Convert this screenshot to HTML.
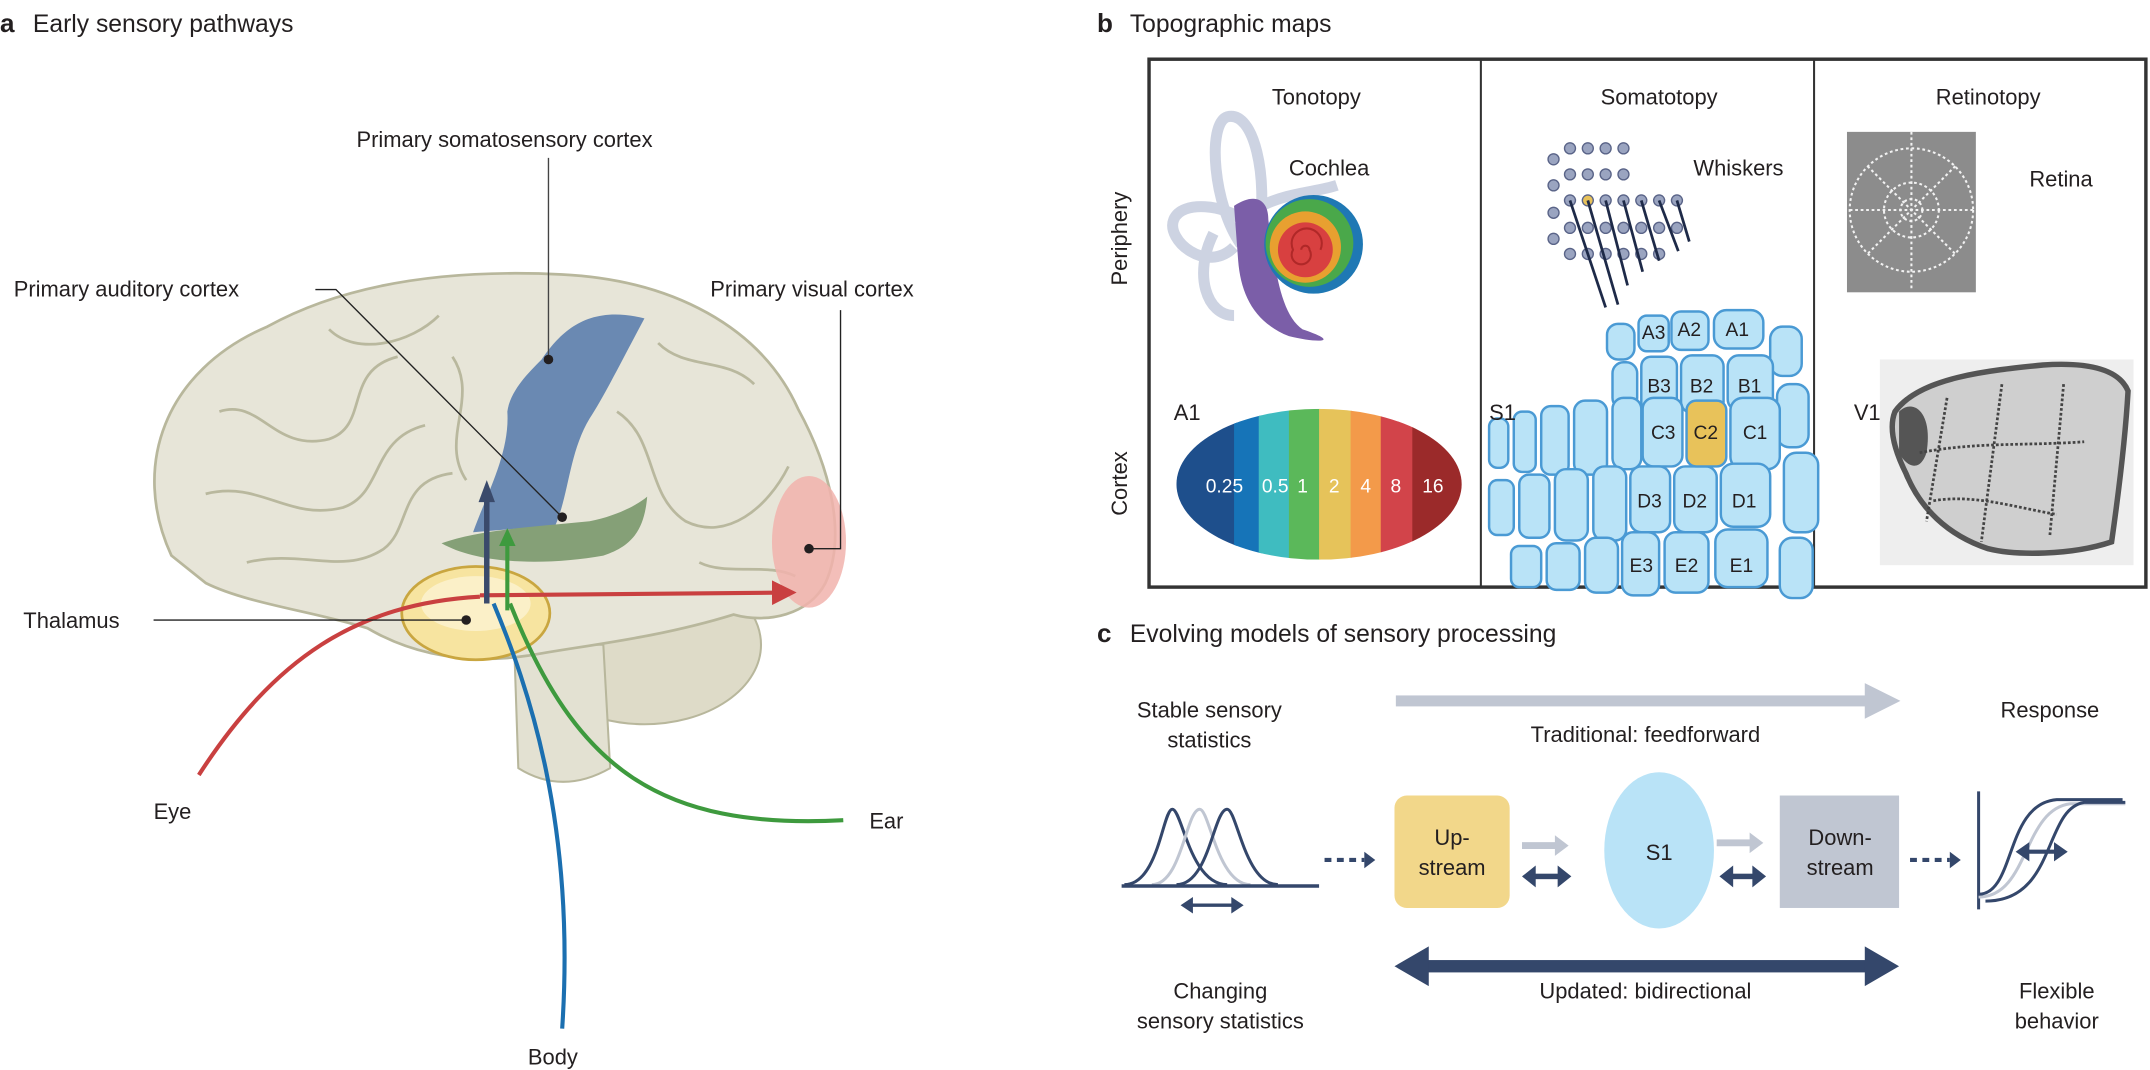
<!DOCTYPE html>
<html><head><meta charset="utf-8"><style>
html,body{margin:0;padding:0;background:#fff;width:2150px;height:1070px;overflow:hidden}
svg{display:block}
text{font-family:"Liberation Sans",sans-serif;fill:#231f20}
</style></head><body>
<svg width="2150" height="1070" viewBox="0 0 1568 780" xmlns="http://www.w3.org/2000/svg">
<defs>
<clipPath id="ell"><ellipse cx="962" cy="353" rx="104" ry="55"/></clipPath>
<marker id="ar" markerWidth="6" markerHeight="6" refX="3" refY="3" orient="auto"><path d="M0,0L6,3L0,6Z" fill="#c94040"/></marker>
</defs>
<!-- titles -->
<text x="0" y="23" font-size="19" font-weight="bold">a</text>
<text x="24" y="23" font-size="18">Early sensory pathways</text>
<text x="800" y="23" font-size="19" font-weight="bold">b</text>
<text x="824" y="23" font-size="18">Topographic maps</text>
<text x="800" y="468" font-size="19" font-weight="bold">c</text>
<text x="824" y="468" font-size="18">Evolving models of sensory processing</text>

<!-- Panel a brain -->
<ellipse cx="470" cy="470" rx="85" ry="58" fill="#dedbc8" stroke="#b8b79c" stroke-width="1.5"/>
<path d="M375,470 L440,470 L445,560 Q410,580 378,560 Z" fill="#e3e1d2" stroke="#b8b79c" stroke-width="1.5"/>
<path d="M125,405 C95,340 120,270 195,238 C255,205 330,196 410,200 C490,204 555,238 582,298 C605,340 618,390 602,425 C590,448 560,455 535,448 C480,465 430,470 385,478 C330,486 292,472 268,458 C230,446 180,440 150,425 Z" fill="#e7e5d8" stroke="#b8b79c" stroke-width="2"/>
<g fill="none" stroke="#b9b89e" stroke-width="2">
<path d="M160,300 C190,290 200,330 240,320 C270,310 250,270 290,260"/>
<path d="M150,360 C190,350 210,380 250,370 C280,360 270,320 310,310"/>
<path d="M180,410 C220,400 250,420 280,400 C300,385 290,350 330,345"/>
<path d="M240,240 C260,260 300,250 320,230"/>
<path d="M330,260 C350,290 320,320 340,350"/>
<path d="M450,300 C480,320 470,360 500,380 C530,395 560,370 575,340"/>
<path d="M480,250 C500,270 530,260 550,280"/>
<path d="M510,410 C530,420 560,410 580,420"/>
<path d="M300,440 C330,450 360,440 380,455"/>
</g>
<path d="M395,262 C410,240 430,222 470,232 C455,260 440,290 430,305 C415,330 415,360 405,383 L345,388 C355,360 372,330 370,300 C372,285 385,272 395,262 Z" fill="#6a89b2"/>
<path d="M322,396 C350,386 390,384 430,380 C450,376 465,368 472,362 C470,385 462,398 440,405 C400,412 350,412 322,396 Z" fill="#85a077"/>
<ellipse cx="590" cy="395" rx="27" ry="48" fill="#f1b3ad" opacity="0.85"/>
<ellipse cx="347" cy="447" rx="54" ry="34" fill="#f7e4a0" stroke="#c9a640" stroke-width="2"/>
<ellipse cx="347" cy="440" rx="40" ry="20" fill="#fbf0c8"/>
<!-- pathways -->
<path d="M145,565 C200,480 260,440 350,435" fill="none" stroke="#c94040" stroke-width="3"/>
<line x1="350" y1="434" x2="572" y2="432" stroke="#c94040" stroke-width="3" marker-end="url(#ar)"/>
<line x1="355" y1="440" x2="355" y2="362" stroke="#3a4a6b" stroke-width="4"/>
<path d="M349,366 L355,350 L361,366 Z" fill="#3a4a6b"/>
<line x1="370" y1="445" x2="370" y2="396" stroke="#3e9a3e" stroke-width="3"/>
<path d="M364,398 L370,385 L376,398 Z" fill="#3e9a3e"/>
<path d="M615,598 C480,605 420,560 372,440" fill="none" stroke="#3e9a3e" stroke-width="3"/>
<path d="M410,750 C420,600 385,500 360,440" fill="none" stroke="#1b6fb0" stroke-width="3"/>
<!-- labels a -->
<text x="260" y="107" font-size="16">Primary somatosensory cortex</text>
<line x1="400" y1="115" x2="400" y2="262" stroke="#444" stroke-width="1"/><circle cx="400" cy="262" r="3.5" fill="#231f20"/>
<text x="10" y="216" font-size="16">Primary auditory cortex</text>
<polyline points="230,211 245,211 410,377" fill="none" stroke="#222" stroke-width="1"/><circle cx="410" cy="377" r="3.5" fill="#231f20"/>
<text x="518" y="216" font-size="16">Primary visual cortex</text>
<polyline points="613,226 613,400 592,400" fill="none" stroke="#222" stroke-width="1"/><circle cx="590" cy="400" r="3.5" fill="#231f20"/>
<text x="17" y="458" font-size="16">Thalamus</text>
<line x1="112" y1="452" x2="340" y2="452" stroke="#222" stroke-width="1"/><circle cx="340" cy="452" r="3.5" fill="#231f20"/>
<text x="112" y="597" font-size="16">Eye</text>
<text x="634" y="604" font-size="16">Ear</text>
<text x="385" y="776" font-size="16">Body</text>

<!-- Panel b box -->
<rect x="838" y="43" width="727" height="385" fill="none" stroke="#333" stroke-width="2.5"/>
<line x1="1080" y1="43" x2="1080" y2="428" stroke="#333" stroke-width="1.5"/>
<line x1="1323" y1="43" x2="1323" y2="428" stroke="#333" stroke-width="1.5"/>
<text x="960" y="76" font-size="16" text-anchor="middle">Tonotopy</text>
<text x="1210" y="76" font-size="16" text-anchor="middle">Somatotopy</text>
<text x="1450" y="76" font-size="16" text-anchor="middle">Retinotopy</text>
<text transform="translate(822,208) rotate(-90)" font-size="16">Periphery</text>
<text transform="translate(822,376) rotate(-90)" font-size="16">Cortex</text>
<!-- cochlea -->
<g fill="none" stroke="#cdd3e2" stroke-width="8">
<path d="M905,178 C885,150 880,90 895,85 C915,80 925,130 918,170"/>
<path d="M900,180 C880,200 850,175 856,160 C862,145 895,150 905,160"/>
<path d="M885,170 C870,200 880,230 900,230"/>
<path d="M920,150 C940,140 960,140 975,135"/>
</g>
<path d="M900,150 C915,140 925,145 925,160 C930,200 935,230 950,240 C980,250 960,250 940,245 C915,235 905,215 903,190 Z" fill="#7b5ea8"/>
<circle cx="958" cy="178" r="36" fill="#1f78b4"/>
<circle cx="955" cy="177" r="32" fill="#4aa84a"/>
<circle cx="952" cy="180" r="26" fill="#e8a030"/>
<circle cx="952" cy="182" r="20" fill="#d84040"/>
<path d="M952,182 m-3,0 a3,3 0 1,1 6,0 a7,7 0 1,1 -12,0 a11,11 0 1,1 20,0" fill="none" stroke="#b02828" stroke-width="1.5"/>
<text x="940" y="128" font-size="16">Cochlea</text>
<!-- A1 ellipse -->
<g clip-path="url(#ell)">
<rect x="858" y="298" width="44" height="110" fill="#1e4f8c"/>
<rect x="900" y="298" width="20" height="110" fill="#1674b8"/>
<rect x="918" y="298" width="23" height="110" fill="#3fbcc0"/>
<rect x="940" y="298" width="23" height="110" fill="#5bb85a"/>
<rect x="962" y="298" width="24" height="110" fill="#e6c35a"/>
<rect x="985" y="298" width="23" height="110" fill="#f39a4a"/>
<rect x="1007" y="298" width="24" height="110" fill="#d2444a"/>
<rect x="1030" y="298" width="40" height="110" fill="#9b2a2a"/>
</g>
<g font-size="14" text-anchor="middle">
<text x="893" y="359" style="fill:#fff">0.25</text><text x="930" y="359" style="fill:#fff">0.5</text><text x="950" y="359" style="fill:#fff">1</text>
<text x="973" y="359" style="fill:#fff">2</text><text x="996" y="359" style="fill:#fff">4</text><text x="1018" y="359" style="fill:#fff">8</text><text x="1045" y="359" style="fill:#fff">16</text>
</g>
<text x="856" y="306" font-size="16">A1</text>
<!-- whiskers -->
<g fill="#9aa4c0" stroke="#5a6488" stroke-width="1">
<circle cx="1145" cy="108" r="4"/><circle cx="1158" cy="108" r="4"/><circle cx="1171" cy="108" r="4"/><circle cx="1184" cy="108" r="4"/>
<circle cx="1133" cy="116" r="4"/>
<circle cx="1145" cy="127" r="4"/><circle cx="1158" cy="127" r="4"/><circle cx="1171" cy="127" r="4"/><circle cx="1184" cy="127" r="4"/>
<circle cx="1133" cy="135" r="4"/>
<circle cx="1145" cy="146" r="4"/><circle cx="1171" cy="146" r="4"/><circle cx="1184" cy="146" r="4"/><circle cx="1197" cy="146" r="4"/><circle cx="1210" cy="146" r="4"/><circle cx="1223" cy="146" r="4"/>
<circle cx="1133" cy="155" r="4"/>
<circle cx="1145" cy="166" r="4"/><circle cx="1158" cy="166" r="4"/><circle cx="1171" cy="166" r="4"/><circle cx="1184" cy="166" r="4"/><circle cx="1197" cy="166" r="4"/><circle cx="1210" cy="166" r="4"/><circle cx="1223" cy="166" r="4"/>
<circle cx="1133" cy="174" r="4"/>
<circle cx="1145" cy="185" r="4"/><circle cx="1158" cy="185" r="4"/><circle cx="1171" cy="185" r="4"/><circle cx="1184" cy="185" r="4"/><circle cx="1197" cy="185" r="4"/><circle cx="1210" cy="185" r="4"/>
</g>
<circle cx="1158" cy="146" r="4" fill="#e8c25a" stroke="#5a6488"/>
<g stroke="#1e2a48" stroke-width="2" fill="none">
<path d="M1145,146 L1171,224"/><path d="M1158,146 L1180,222"/><path d="M1171,146 L1187,208"/><path d="M1184,146 L1198,198"/><path d="M1197,146 L1210,190"/><path d="M1210,146 L1224,183"/><path d="M1223,146 L1232,176"/>
</g>
<text x="1235" y="128" font-size="16">Whiskers</text>
<!-- barrels -->
<g fill="#b9e3f7" stroke="#4a9ad4" stroke-width="1.8">
<rect x="1172" y="236" width="20" height="26" rx="8"/>
<rect x="1195" y="230" width="22" height="26" rx="6"/><rect x="1219" y="227" width="27" height="28" rx="7"/><rect x="1250" y="226" width="36" height="28" rx="9"/>
<rect x="1291" y="238" width="23" height="36" rx="9"/>
<rect x="1176" y="264" width="18" height="34" rx="8"/>
<rect x="1197" y="260" width="26" height="40" rx="7"/><rect x="1226" y="259" width="31" height="42" rx="8"/><rect x="1260" y="259" width="33" height="40" rx="8"/>
<rect x="1296" y="280" width="23" height="46" rx="9"/>
<rect x="1086" y="305" width="14" height="36" rx="6"/><rect x="1104" y="300" width="16" height="44" rx="6"/><rect x="1124" y="296" width="20" height="50" rx="7"/><rect x="1148" y="292" width="24" height="54" rx="8"/>
<rect x="1176" y="290" width="21" height="52" rx="8"/>
<rect x="1198" y="290" width="29" height="50" rx="8"/><rect x="1262" y="290" width="36" height="52" rx="9"/>
<rect x="1301" y="330" width="25" height="58" rx="9"/>
<rect x="1086" y="350" width="18" height="40" rx="6"/><rect x="1108" y="346" width="22" height="46" rx="7"/><rect x="1134" y="342" width="24" height="52" rx="8"/><rect x="1162" y="340" width="24" height="54" rx="8"/>
<rect x="1189" y="340" width="29" height="48" rx="8"/><rect x="1221" y="340" width="31" height="48" rx="8"/><rect x="1255" y="338" width="36" height="46" rx="9"/>
<rect x="1298" y="392" width="24" height="44" rx="9"/>
<rect x="1102" y="398" width="22" height="30" rx="6"/><rect x="1128" y="396" width="24" height="34" rx="7"/><rect x="1156" y="392" width="24" height="40" rx="8"/>
<rect x="1183" y="388" width="27" height="46" rx="8"/><rect x="1214" y="388" width="32" height="44" rx="8"/><rect x="1251" y="386" width="38" height="42" rx="9"/>
</g>
<rect x="1230" y="292" width="29" height="48" rx="7" fill="#e8c25a" stroke="#4a9ad4" stroke-width="1.8"/>
<g font-size="14" text-anchor="middle">
<text x="1206" y="247">A3</text><text x="1232" y="245">A2</text><text x="1267" y="245">A1</text>
<text x="1210" y="286">B3</text><text x="1241" y="286">B2</text><text x="1276" y="286">B1</text>
<text x="1213" y="320">C3</text><text x="1244" y="320">C2</text><text x="1280" y="320">C1</text>
<text x="1203" y="370">D3</text><text x="1236" y="370">D2</text><text x="1272" y="370">D1</text>
<text x="1197" y="417">E3</text><text x="1230" y="417">E2</text><text x="1270" y="417">E1</text>
</g>
<text x="1086" y="306" font-size="16">S1</text>
<!-- retina -->
<rect x="1347" y="96" width="94" height="117" fill="#8c8c8c"/>
<g fill="none" stroke="#f2f2f2" stroke-width="1.5" stroke-dasharray="2,2">
<circle cx="1394" cy="153" r="45"/><circle cx="1394" cy="153" r="20"/><circle cx="1394" cy="153" r="8"/>
<line x1="1394" y1="96" x2="1394" y2="212"/><line x1="1349" y1="153" x2="1439" y2="153"/>
<line x1="1362" y1="121" x2="1426" y2="185"/><line x1="1426" y1="121" x2="1362" y2="185"/>
</g>
<text x="1480" y="136" font-size="16">Retina</text>
<!-- V1 -->
<rect x="1371" y="262" width="185" height="150" fill="#eeeeee"/>
<path d="M1382,300 C1400,275 1450,270 1490,266 C1520,264 1545,268 1552,285 C1550,320 1545,360 1540,395 C1510,405 1470,405 1450,400 C1420,390 1400,370 1390,345 C1380,325 1378,310 1382,300 Z" fill="#cfcfcf" stroke="#555" stroke-width="4"/>
<path d="M1385,300 C1395,290 1410,300 1405,330 C1400,345 1390,340 1385,330 Z" fill="#555"/>
<g stroke="#444" stroke-width="2" stroke-dasharray="2,1.5" fill="none">
<path d="M1420,290 L1405,380"/><path d="M1460,280 L1445,395"/><path d="M1505,280 L1495,390"/>
<path d="M1400,330 C1440,322 1480,325 1520,322"/><path d="M1410,365 C1440,360 1470,370 1500,375"/>
</g>
<text x="1352" y="306" font-size="16">V1</text>

<!-- Panel c shapes -->
<rect x="1018" y="507" width="345" height="8" fill="#c0c6d2"/>
<path d="M1360,498 L1386,511 L1360,524 Z" fill="#c0c6d2"/>
<rect x="1040" y="700" width="322" height="9" fill="#34476b"/>
<path d="M1042,690 L1017,704.5 L1042,719 Z M1360,690 L1385,704.5 L1360,719 Z" fill="#34476b"/>
<path d="M820,645 C845,645 848,590 855,590 C862,590 868,645 895,645" fill="none" stroke="#34476b" stroke-width="2.2"/>
<path d="M840,645 C862,645 865,590 875,590 C882,590 888,645 912,645" fill="none" stroke="#c0c6d2" stroke-width="2.2"/>
<path d="M858,645 C882,645 885,590 895,590 C902,590 908,645 932,645" fill="none" stroke="#34476b" stroke-width="2.2"/>
<line x1="818" y1="646" x2="962" y2="646" stroke="#34476b" stroke-width="2.5"/>
<line x1="868" y1="660" x2="900" y2="660" stroke="#34476b" stroke-width="2.5"/>
<path d="M870,654 L861,660 L870,666 Z M898,654 L907,660 L898,666 Z" fill="#34476b"/>
<line x1="966" y1="627" x2="995" y2="627" stroke="#34476b" stroke-width="3" stroke-dasharray="5,4"/>
<path d="M995,621 L1003,627 L995,633 Z" fill="#34476b"/>
<line x1="1393" y1="627" x2="1422" y2="627" stroke="#34476b" stroke-width="3" stroke-dasharray="5,4"/>
<path d="M1422,621 L1430,627 L1422,633 Z" fill="#34476b"/>
<rect x="1017" y="580" width="84" height="82" rx="9" fill="#f2d78a"/>
<ellipse cx="1210" cy="620" rx="40" ry="57" fill="#b9e3f7"/>
<rect x="1298" y="580" width="87" height="82" fill="#c0c6d2"/>
<g fill="#c0c6d2"><rect x="1110" y="614" width="26" height="5"/><path d="M1134,609 L1144,616.5 L1134,624 Z"/>
<rect x="1252" y="612" width="26" height="5"/><path d="M1276,607 L1286,614.5 L1276,622 Z"/></g>
<g fill="#34476b"><rect x="1118" y="637" width="20" height="4"/><path d="M1120,631 L1110,639 L1120,647 Z M1136,631 L1146,639 L1136,647 Z"/>
<rect x="1262" y="637" width="18" height="4"/><path d="M1264,631 L1254,639 L1264,647 Z M1278,631 L1288,639 L1278,647 Z"/></g>
<line x1="1443" y1="577" x2="1443" y2="663" stroke="#34476b" stroke-width="2.2"/>
<path d="M1443,654 C1480,654 1475,590 1510,586 L1550,586" fill="none" stroke="#c0c6d2" stroke-width="2.2"/>
<path d="M1443,652 C1470,652 1462,586 1500,583 L1548,583" fill="none" stroke="#34476b" stroke-width="2.2"/>
<path d="M1448,657 C1500,657 1490,590 1520,585 L1550,585" fill="none" stroke="#34476b" stroke-width="2.2"/>
<line x1="1478" y1="621" x2="1500" y2="621" stroke="#34476b" stroke-width="3"/>
<path d="M1480,614 L1470,621 L1480,628 Z M1498,614 L1508,621 L1498,628 Z" fill="#34476b"/>

<!-- Panel c text -->
<g font-size="16" text-anchor="middle">
<text x="882" y="523">Stable sensory</text><text x="882" y="545">statistics</text>
<text x="1200" y="541">Traditional: feedforward</text>
<text x="1495" y="523">Response</text>
<text x="890" y="728">Changing</text><text x="890" y="750">sensory statistics</text>
<text x="1200" y="728">Updated: bidirectional</text>
<text x="1500" y="728">Flexible</text><text x="1500" y="750">behavior</text>
<text x="1059" y="616">Up-</text><text x="1059" y="638">stream</text>
<text x="1210" y="627">S1</text>
<text x="1342" y="616">Down-</text><text x="1342" y="638">stream</text>
</g>
</svg>
</body></html>
